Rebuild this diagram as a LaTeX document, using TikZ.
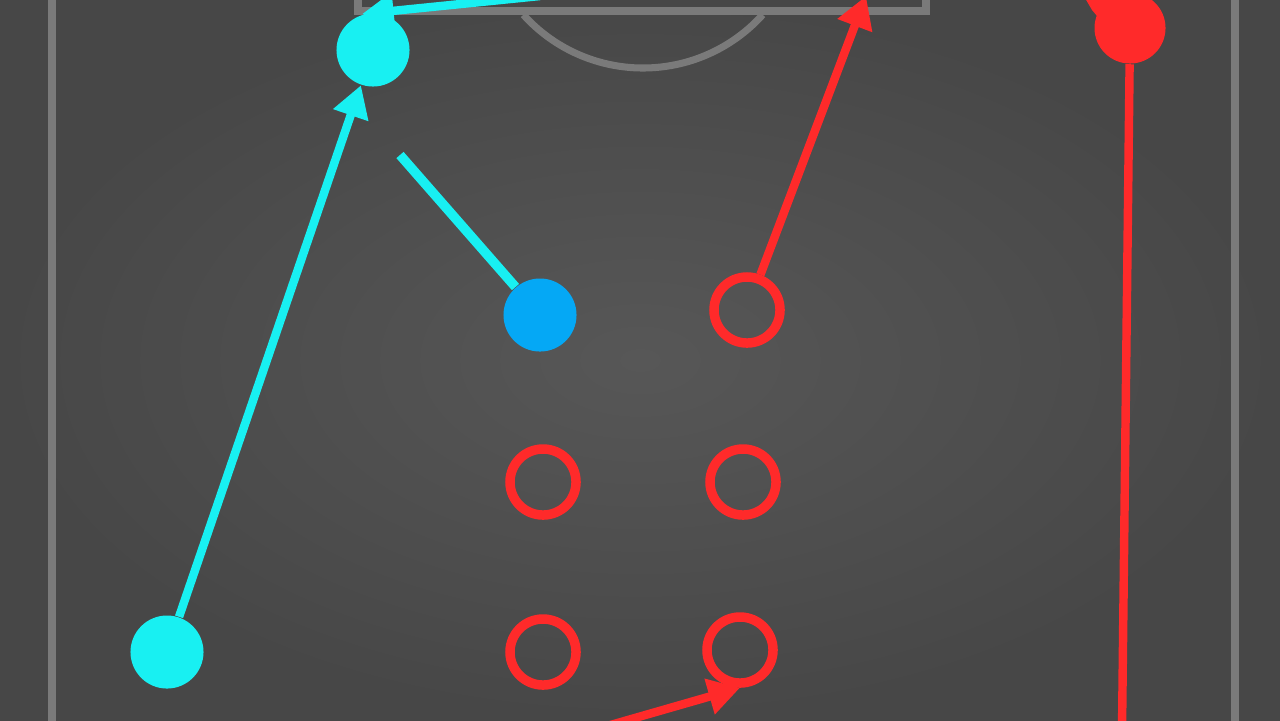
\documentclass[tikz,border=0pt]{standalone}
\usetikzlibrary{arrows.meta}
\definecolor{bgin}{HTML}{575757}
\definecolor{bgout}{HTML}{474747}
\definecolor{pitch}{HTML}{7A7A7A}
\definecolor{pcyan}{HTML}{18F0F2}
\definecolor{pblue}{HTML}{05A8F5}
\definecolor{pred}{HTML}{FF2A2A}
\tikzset{
  pitchline/.style={draw=pitch, line width=2.3pt},
  cyanp/.style={circle, fill=pcyan, minimum size=0.73cm, inner sep=0pt},
  bluep/.style={circle, fill=pblue, minimum size=0.73cm, inner sep=0pt},
  redp/.style={circle, fill=pred, minimum size=0.71cm, inner sep=0pt},
  redo/.style={circle, draw=pred, line width=2.7pt, minimum size=0.66cm, inner sep=0pt},
  cyanarrow/.style={draw=pcyan, line width=2.4pt, -{Triangle[length=9pt,width=10pt]}},
  cyanline/.style={draw=pcyan, line width=2.7pt},
  redarrow/.style={draw=pred, line width=2.4pt, -{Triangle[length=9pt,width=10pt]}},
  redline/.style={draw=pred, line width=2.4pt},
}
\begin{document}
\begin{tikzpicture}[x=0.01cm, y=-0.01cm]
\useasboundingbox (0,0) rectangle (1280,720);
\shade[inner color=bgin, outer color=bgout] (0,0) rectangle (1280,720);
% pitch lines
\draw[pitchline] (52,-10) -- (52,730);
\draw[pitchline] (1235,-10) -- (1235,730);
\draw[pitchline] (358,-10) -- (358,11) -- (926,11) -- (926,-10);
\draw[draw=pitch, line width=2pt] (643,-93) ++(138:161) arc[start angle=138, end angle=42, radius=161];
% nodes
\node[cyanp] (c1) at (167,652) {};
\node[cyanp] (c2) at (373,50) {};
\node[bluep] (b1) at (540,315) {};
\node[redo] (r1) at (747,310) {};
\node[redo] (r2) at (543,482) {};
\node[redo] (r3) at (743,482) {};
\node[redo] (r4) at (543,652) {};
\node[redo] (r5) at (740,650) {};
\node[redp] (r6) at (1130,28) {};
\coordinate (cpass) at (540,-4);
\coordinate (ctip) at (362,14);
\coordinate (bl) at (400,155);
\coordinate (rt) at (866,-4);
\coordinate (rb) at (1122,730);
\coordinate (rbl) at (600,728);
% connectors
\draw[cyanarrow] (c1) -- (c2);
\draw[cyanarrow] (cpass) -- (ctip);
\draw[cyanline] (b1) -- (bl);
\draw[redarrow] (r1) -- (rt);
\draw[redline] (rb) -- (r6);
\draw[redarrow] (rbl) -- (r5.south);
\fill[pred] (1085,-2) -- (1112,-2) -- (1108,16) -- (1097,16) -- (1092,10) -- cycle;
\end{tikzpicture}
\end{document}
